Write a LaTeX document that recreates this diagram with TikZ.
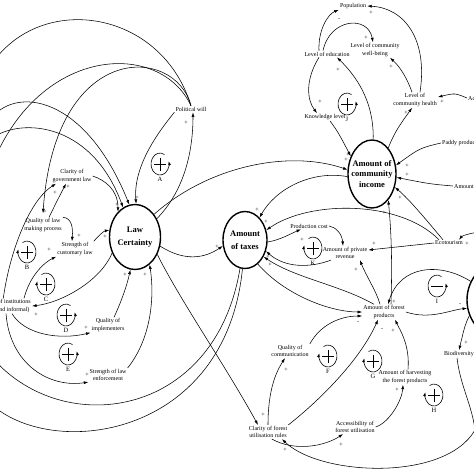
\documentclass[tikz,border=0pt]{standalone}
\usepackage{fontspec}
\setmainfont{Liberation Serif}
\usetikzlibrary{arrows.meta,shapes.geometric}
\newcommand\cldloop[5]{%
\begin{scope}[shift={(#1,#2)}]
\if#3r\draw[loopline] (4.5,-9.5) arc[start angle=-60, end angle=-375, x radius=9, y radius=11];
\else\draw[loopline] (-4.5,-9.5) arc[start angle=-120, end angle=195, x radius=9, y radius=11];\fi
\draw[signline] (-6,0) -- (6,0);
\if#4p\draw[signline] (0,-6.5) -- (0,6.5);\fi
\node[looplab] (loop#5) at (0,15) {#5};
\end{scope}}
\begin{document}
\begin{tikzpicture}[x=1pt,y=-1pt,
 big/.style={ellipse, draw, line width=1.4pt, inner sep=0pt, align=center, font=\bfseries\fontsize{8.5}{12.5}\selectfont},
 lbl/.style={align=center, inner sep=1pt, font=\fontsize{6}{7.5}\selectfont},
 link/.style={line width=0.55pt, -{Latex[length=4.5pt,width=3pt]}},
 plain/.style={line width=0.55pt},
 sgn/.style={inner sep=0pt, font=\fontsize{6}{6}\selectfont},
 loopline/.style={line width=0.6pt, -{Latex[length=4pt,width=2.8pt]}},
 signline/.style={line width=0.9pt},
 looplab/.style={inner sep=0pt, font=\fontsize{6.5}{7}\selectfont}]
\useasboundingbox (0,0) rectangle (474,474);
\clip (0,0) rectangle (474,474);

% main variables
\node[big, minimum width=51pt, minimum height=65pt] (LC) at (135,237) {Law\\Certainty};
\node[big, minimum width=44pt, minimum height=57pt] (TX) at (245,240) {Amount\\of taxes};
\node[big, inner xsep=-6pt, minimum width=48pt, minimum height=68pt, font=\bfseries\fontsize{8.5}{10.5}\selectfont] (CI) at (372,174) {Amount of\\community\\income};
\node[big, minimum width=72pt, minimum height=78pt] (RE) at (503,300) {};

% labels
\node[lbl] (pw) at (191,109) {Political will};
\node[lbl] (cgl) at (72,176) {Clarity of\\government law};
\node[lbl] (qlm) at (43,225) {Quality of law\\making process};
\node[lbl] (scl) at (75,249) {Strength of\\customary law};
\node[lbl, anchor=east] (inst) at (32,306) {Strength of institutions\\(formal and informal)};
\node[lbl] (qi) at (108,325) {Quality of\\implementers};
\node[lbl] (sle) at (108,375) {Strength of law\\enforcement};
\node[lbl] (pop) at (353,6) {Population};
\node[lbl] (edu) at (327,54) {Level of education};
\node[lbl] (wb) at (375,50) {Level of community\\well-being};
\node[lbl] (hl) at (415,100) {Level of\\community health};
\node[lbl] (kl) at (325,117) {Knowledge level};
\node[lbl, anchor=west] (acc) at (467,98) {Access to health services};
\node[lbl, anchor=west] (pad) at (441,143) {Paddy production};
\node[lbl, anchor=west] (amt) at (453,186) {Amount of rice};
\node[lbl] (eco) at (449,243) {Ecotourism};
\node[lbl] (pc) at (309,226) {Production cost};
\node[lbl] (pr) at (345,253) {Amount of private\\revenue};
\node[lbl] (fp) at (384,312) {Amount of forest\\products};
\node[lbl, anchor=west] (bio) at (443,354) {Biodiversity};
\node[lbl] (qc) at (290,351) {Quality of\\communication};
\node[lbl] (hv) at (405,377) {Amount of harvesting\\the forest products};
\node[lbl] (cfr) at (268,432) {Clarity of forest\\utilisation rules};
\node[lbl] (afu) at (355,427) {Accessibility of\\forest utilisation};

% free ends
\coordinate (w0) at (-15,75);
\coordinate (w1) at (-8,165);
\coordinate (w2) at (-10,120);
\coordinate (w3) at (-10,140);
\coordinate (wl1) at (-10,355);
\coordinate (wl2) at (-10,403);
\coordinate (e3) at (480,232);
\coordinate (ebot) at (475,430);

% political will arcs
\draw[plain] (pw.north) .. controls (160,5) and (30,-10) .. (w0);
\draw[plain] (pw.north) .. controls (160,40) and (40,45) .. (w1);
\draw[link] (pw.north) .. controls (175,45) and (55,40) .. ([yshift=4pt]qlm.north);
\draw[link] (w2) .. controls (15,85) and (85,95) .. (LC.100);
\draw[link] (w3) .. controls (15,118) and (90,118) .. (LC.112);
\draw[link] (pw.south west) .. controls (160,130) and (133,165) .. (LC.88);
\draw[link] (LC.40) .. controls (185,190) and (193,150) .. ([xshift=2pt]pw.south);

% law certainty cluster
\draw[link] (cgl.east) .. controls (105,180) and (118,190) .. (LC.124);
\draw[link] ([xshift=6pt]qlm.north) .. controls (55,205) and (60,195) .. ([xshift=-6pt]cgl.south);
\draw[link] (inst.north) .. controls (10,250) and (30,200) .. ([xshift=-16pt]cgl.south);
\draw[link] (qlm.north east) .. controls (72,218) and (73,228) .. ([xshift=-3pt]scl.north);
\draw[link] ([xshift=-8pt]inst.north east) .. controls (30,275) and (45,262) .. (scl.south west);
\draw[link] (scl.north east) .. controls (98,236) and (104,231) .. (LC.165);
\draw[link] (LC.215) .. controls (100,282) and (60,303) .. (inst.east);
\draw[link] ([xshift=-20pt]inst.south east) .. controls (25,335) and (60,340) .. (qi.south west);
\draw[link] ([xshift=-26pt]inst.south east) .. controls (10,365) and (50,388) .. (sle.south west);
\draw[link] ([xshift=6pt]qi.north) .. controls (122,300) and (127,285) .. (LC.262);
\draw[link] (sle.north east) .. controls (150,340) and (155,300) .. (LC.298);
\draw[link] (LC.322) .. controls (180,300) and (225,365) .. ([xshift=-10pt]cfr.north);
\draw[link] (LC.340) .. controls (185,262) and (205,258) .. (TX.195);
\draw[link] (LC.50) .. controls (210,165) and (290,150) .. (CI.170);
\draw[plain] (TX.-100) .. controls (215,420) and (60,440) .. (wl1);
\draw[plain] (TX.-95) .. controls (225,440) and (50,460) .. (wl2);

% taxes cluster
\draw[link] (CI.186) .. controls (310,170) and (275,190) .. (TX.57);
\draw[link] ([xshift=-10pt]eco.north) .. controls (400,200) and (310,200) .. (TX.25);
\draw[link] (TX.-5) .. controls (280,240) and (290,234) .. ([xshift=-8pt]pc.south);
\draw[link] ([xshift=-14pt]pr.south) .. controls (310,268) and (285,268) .. (TX.-28);
\draw[link] ([xshift=-10pt]fp.north) .. controls (340,285) and (295,278) .. (TX.-42);
\draw[link] (TX.-62) .. controls (285,295) and (330,312) .. (fp.west);
\draw[link] (pc.east) .. controls (336,227) and (342,234) .. ([xshift=-2pt]pr.north);
\draw[link] ([xshift=-4pt]fp.north) .. controls (376,290) and (366,276) .. ([xshift=15pt]pr.south);
\draw[link] (eco.west) -- ([yshift=3pt]pr.east);
\draw[link] (e3) .. controls (470,233) and (462,236) .. ([xshift=-5pt]eco.north east);

% forest cluster
\draw[link] (qc.north east) .. controls (320,325) and (340,316) .. ([yshift=-4pt]fp.west);
\draw[link] (cfr.north) .. controls (268,390) and (276,372) .. ([xshift=-5pt]qc.south);
\draw[link] (cfr.north east) .. controls (320,400) and (360,360) .. ([xshift=-6pt]fp.south);
\draw[link] ([xshift=4pt]cfr.south) .. controls (295,452) and (325,446) .. ([xshift=-12pt]afu.south);
\draw[link] (afu.east) .. controls (390,422) and (402,400) .. ([xshift=-2pt]hv.south);
\draw[link] ([xshift=3pt]hv.north) .. controls (410,345) and (400,330) .. ([xshift=11pt]fp.south);
\draw[link] ([xshift=-2pt]bio.south) .. controls (460,385) and (472,405) .. (ebot) .. controls (445,482) and (320,476) .. ([xshift=14pt]cfr.south);
\draw[link] (fp.east) .. controls (430,320) and (450,310) .. (RE.193);
\draw[link] (RE.150) .. controls (440,262) and (400,265) .. ([xshift=4pt]fp.north);
\draw[link] ([xshift=7pt]fp.north) .. controls (392,270) and (392,240) .. (CI.-58);
\draw[link] (RE.205) .. controls (465,325) .. (bio.north);

% community income cluster
\draw[link] (CI.88) .. controls (374,100) and (355,75) .. ([xshift=10pt]edu.south);
\draw[link] (CI.58) .. controls (395,130) and (405,118) .. ([xshift=-3pt]hl.south);
\draw[link] ([xshift=5pt]kl.south) .. controls (338,132) .. (CI.140);
\draw[link] ([xshift=-8pt]edu.south) .. controls (305,80) and (307,100) .. ([xshift=-8pt]kl.north);
\draw[link] ([xshift=-8pt]edu.north) .. controls (318,30) and (328,14) .. (pop.south west);
\draw[link] ([xshift=-4pt]edu.north) .. controls (330,18) and (368,15) .. ([xshift=-2pt]wb.north);
\draw[link] ([xshift=5pt]hl.north) .. controls (428,40) and (405,8) .. (pop.east);
\draw[link] ([xshift=-3pt]hl.north) .. controls (406,75) and (398,65) .. ([xshift=15pt]wb.south);
\draw[link] (acc.west) .. controls (455,93) .. ([yshift=3pt]hl.east);
\draw[link] (pad.west) .. controls (420,148) .. (CI.20);
\draw[link] (amt.west) .. controls (430,184) .. (CI.-8);
\draw[link] ([xshift=-6pt]eco.north) .. controls (428,222) and (410,200) .. (CI.-30);

% polarity signs
\foreach \x/\y [count=\i] in {186/123,137/198,117/205,45/212,55/193,68/187,79/236,105/237,49/250,125/275,145/275,36/315,86/328,87/375,217/247,257/210,266/222,268/257,270/265,302/240,374/244,356/270,384/213,400/198,394/302,466/343,286/370,263/415,285/450,341/445,397/390,393/331,371/13,366/38,338/70,391/67,320/102,442/102,406/113,348/155,346/160,407/166,407/175,467/244}
  \node[sgn] (plus\i) at (\x,\y) {+};
\foreach \x/\y [count=\i] in {339/20,460/305,358/323,382/330}
  \node[sgn] (minus\i) at (\x,\y) {-};

% loops
\cldloop{160}{164}{r}{p}{A}
\cldloop{27}{252}{l}{p}{B}
\cldloop{46}{284}{l}{p}{C}
\cldloop{66}{315}{r}{p}{D}
\cldloop{68}{354}{r}{p}{E}
\cldloop{328}{356}{l}{p}{F}
\cldloop{373}{361}{l}{p}{G}
\cldloop{434}{395}{l}{p}{H}
\cldloop{437}{286}{r}{m}{I}
\cldloop{347}{104}{r}{p}{J}
\cldloop{313}{248}{l}{p}{K}
\end{tikzpicture}
\end{document}
